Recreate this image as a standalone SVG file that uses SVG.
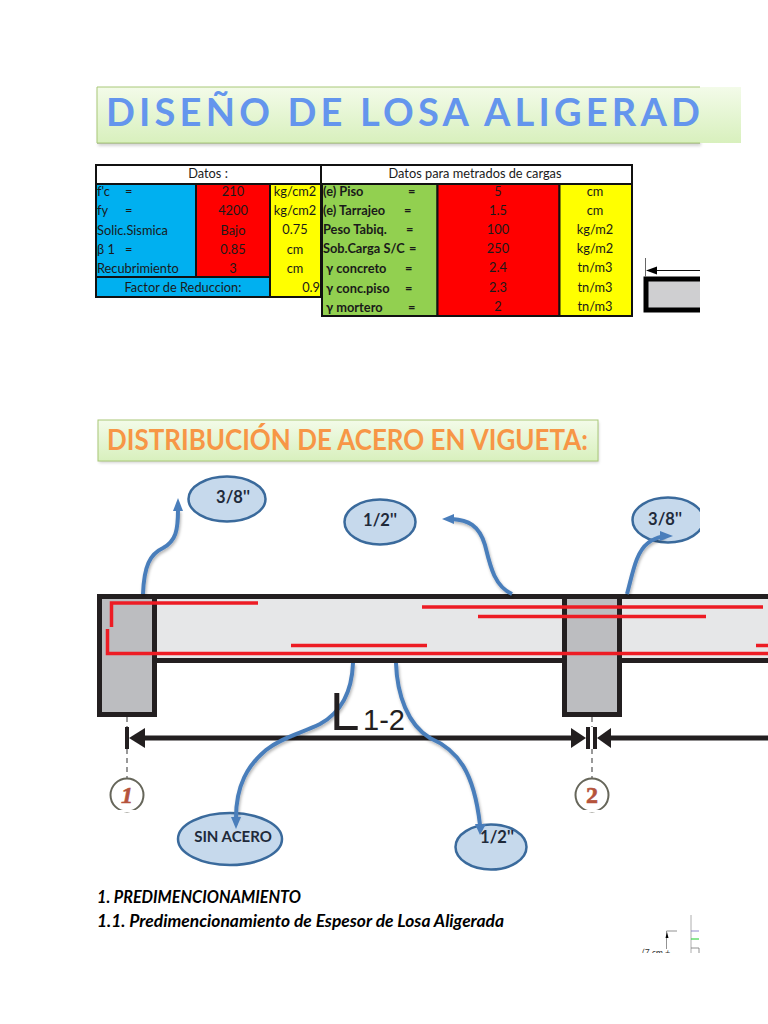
<svg xmlns="http://www.w3.org/2000/svg" width="768" height="1024" viewBox="0 0 768 1024">
<style>
text{font-family:"Lato","Carlito","Liberation Sans",sans-serif;font-size:12.8px;fill:#1a1a1a}
.c{text-anchor:middle}
.b{font-weight:700}
.cell{stroke:#111;stroke-width:2}
.blk{fill:none;stroke:#231f20;stroke-width:5}
.red{stroke:#ed1c24;stroke-width:3.5;fill:none}
.curve{fill:none;stroke:#4a7ebb;stroke-width:4;filter:url(#sh)}
.oval{fill:#c6d9ec;stroke:#3a6a9c;stroke-width:2.5}
.ov{font-size:16.5px;font-weight:700;fill:#1f2a3a;text-anchor:middle}
.dash{stroke:#555;stroke-width:1.2;stroke-dasharray:5 4}
.head{fill:#231f20}
.arr{fill:#4a7ebb}
.dl{stroke:#231f20;stroke-width:5}
</style>
<defs>
<linearGradient id="gr" x1="0" y1="0" x2="0" y2="1"><stop offset="0" stop-color="#f3fbe9"/><stop offset="1" stop-color="#d8f0bd"/></linearGradient>
<filter id="sh" x="-30%" y="-30%" width="160%" height="160%"><feDropShadow dx="1" dy="2" stdDeviation="1.5" flood-color="#000" flood-opacity=".3"/></filter>
<clipPath id="clip700"><rect x="0" y="0" width="700" height="1024"/></clipPath>
<clipPath id="clipSmall"><rect x="0" y="0" width="700" height="953"/></clipPath>
</defs>
<rect width="768" height="1024" fill="#fff"/>

<g id="title">
<rect x="97" y="87" width="603" height="56" fill="#888" opacity=".55" filter="url(#sh)" transform="translate(0,1)"/>
<rect x="97" y="87" width="644" height="56" fill="url(#gr)"/>
<path d="M700 87H97V143H700" fill="none" stroke="#a9c878" stroke-width="1"/>
<text x="106" y="125.500" clip-path="url(#clip700)" style="font-size:38px;font-weight:700;fill:#6495ed;letter-spacing:4.2px">DISEÑO DE LOSA ALIGERADA</text>
</g>

<g id="datos">
<rect class="cell" x="96" y="165" width="225" height="19" fill="#fff"/>
<text class="c" x="208" y="178">Datos :</text>
<rect class="cell" x="96" y="184" width="100" height="93" fill="#00b0f0"/>
<rect class="cell" x="196" y="184" width="74" height="93" fill="#f00"/>
<rect class="cell" x="270" y="184" width="51" height="113" fill="#ff0"/>
<rect class="cell" x="96" y="277" width="174" height="20" fill="#00b0f0"/>
<text x="97" y="196">f'c</text><text x="125" y="196">=</text>
<text x="97" y="215">fy</text><text x="125" y="215">=</text>
<text x="97" y="235">Solic.Sismica</text>
<text x="97" y="254">β 1</text><text x="125" y="254">=</text>
<text x="97" y="273">Recubrimiento</text>
<text class="c" x="183" y="292">Factor de Reduccion:</text>
<g class="vals">
<text class="c" x="233" y="196">210</text><text class="c" x="233" y="215">4200</text><text class="c" x="233" y="235">Bajo</text><text class="c" x="233" y="254">0.85</text><text class="c" x="233" y="273">3</text>
<text class="c" x="295" y="196">kg/cm2</text><text class="c" x="295" y="215">kg/cm2</text><text class="c" x="295" y="234">0.75</text><text class="c" x="295" y="254">cm</text><text class="c" x="295" y="273">cm</text>
<text x="320" y="292" text-anchor="end">0.9</text>
</g>
</g>

<g id="cargas">
<rect class="cell" x="321" y="165" width="311" height="19" fill="#fff"/>
<text class="c" x="475" y="178">Datos para metrados de cargas</text>
<rect class="cell" x="322" y="184" width="115.500" height="132" fill="#92d050"/>
<rect class="cell" x="437.500" y="184" width="122" height="132" fill="#f00"/>
<rect class="cell" x="559.500" y="184" width="72.500" height="132" fill="#ff0"/>
<g class="b">
<text x="323" y="196">(e) Piso</text><text x="408" y="196">=</text>
<text x="323" y="215">(e) Tarrajeo</text><text x="404" y="215">=</text>
<text x="323" y="234">Peso Tabiq.</text><text x="406" y="234">=</text>
<text x="323" y="253">Sob.Carga S/C</text><text x="409" y="253">=</text>
<text x="326" y="273">γ concreto</text><text x="405" y="273">=</text>
<text x="326" y="293">γ conc.piso</text><text x="405" y="293">=</text>
<text x="326" y="312">γ mortero</text><text x="408" y="312">=</text>
</g>
<text class="c" x="498" y="196">5</text><text class="c" x="498" y="215">1.5</text><text class="c" x="498" y="234">100</text><text class="c" x="498" y="253">250</text><text class="c" x="498" y="272">2.4</text><text class="c" x="498" y="292">2.3</text><text class="c" x="498" y="311">2</text>
<text class="c" x="595" y="196">cm</text><text class="c" x="595" y="215">cm</text><text class="c" x="595" y="234">kg/m2</text><text class="c" x="595" y="253">kg/m2</text><text class="c" x="595" y="272">tn/m3</text><text class="c" x="595" y="292">tn/m3</text><text class="c" x="595" y="311">tn/m3</text>
</g>

<g id="seccion-superior">
<rect x="646" y="279" width="54" height="31" fill="#cfcfd1"/>
<path d="M700 279H646V310H700" fill="none" stroke="#000" stroke-width="5"/>
<path d="M645.500 258V277" stroke="#666" stroke-width="1" fill="none"/>
<path d="M700 270.500H655" stroke="#111" stroke-width="1.200" fill="none"/>
<path d="M646 270.500L657 266.500V274.500Z" fill="#000"/>
</g>

<g id="subtitulo">
<rect x="98" y="420" width="500" height="41" fill="#888" opacity=".55" filter="url(#sh)"/>
<rect x="98" y="420" width="500" height="41" fill="url(#gr)" stroke="#a9c878"/>
<text x="107" y="450" textLength="481" lengthAdjust="spacingAndGlyphs" style="font-size:28.500px;font-weight:700;fill:#f79646">DISTRIBUCIÓN DE ACERO EN VIGUETA:</text>
</g>

<g id="viga">
<rect x="157" y="596.500" width="611" height="64" fill="#e6e7e8"/>
<path d="M157 596.500H768M157 660.500H768" class="blk"/>
<rect id="col1" x="99.500" y="596.500" width="55" height="118" class="blk" style="fill:#bcbdc0"/>
<rect id="col2" x="564.500" y="596.500" width="55" height="118" class="blk" style="fill:#bcbdc0"/>
<path d="M111.500 627V603H258" class="red"/>
<path d="M107.500 629V653.500H768" class="red"/>
<path d="M291 645.500H427M756 645.500H768M422 607H763M478 616.500H706" class="red"/>
</g>

<g id="cotas">
<path d="M127 717V727M127 749V779M592 717V727M592 749V779" class="dash"/>
<path d="M145 738H571M611 738H768" class="dl"/>
<path d="M127 727V749M588 727V749M595 727V749" stroke="#231f20" stroke-width="4"/>
<path class="head" d="M129 738L145 728V748Z"/>
<path class="head" d="M586 738L571 728V748Z"/>
<path class="head" d="M597 738L611 728V748Z"/>
</g>

<g id="eje1">
<circle cx="127" cy="795" r="16.500" fill="#fff" stroke="#66665a" stroke-width="2"/>
<text class="c" x="127" y="803" style="font-family:'Liberation Serif',serif;font-size:24px;font-weight:700;font-style:italic;fill:#b5533c;stroke:#b5533c;stroke-width:.6">1</text>
</g>
<g id="eje2">
<circle cx="592" cy="795" r="16.500" fill="#fff" stroke="#66665a" stroke-width="2"/>
<text class="c" x="592" y="803" style="font-family:'Liberation Serif',serif;font-size:24px;font-weight:700;fill:#b5533c;stroke:#b5533c;stroke-width:.6">2</text>
</g>
<rect x="100" y="810" width="520" height="2" fill="#fff"/>

<g id="n38a"><ellipse class="oval" cx="227" cy="499" rx="38.500" ry="22.500"/><text class="ov" x="233" y="503">3/8''</text></g>
<g id="n12a"><ellipse class="oval" cx="380" cy="522" rx="35.500" ry="22.500"/><text class="ov" x="380" y="526">1/2''</text></g>
<g id="n38b" clip-path="url(#clip700)"><ellipse class="oval" cx="668" cy="520" rx="35.500" ry="22.500"/><text class="ov" x="665" y="525">3/8''</text></g>
<g id="nsin"><ellipse class="oval" cx="230" cy="839" rx="52" ry="26"/><text class="ov" x="233" y="842" style="font-size:15px">SIN ACERO</text></g>
<g id="n12b"><ellipse class="oval" cx="491" cy="847" rx="35.500" ry="22.500"/><text class="ov" x="497" y="843">1/2''</text></g>

<g id="conectores">
<path class="curve" d="M143 594C144 566 150 554 163 548C176 541 178 530 178 510"/>
<path class="arr" d="M178 498L183 511H173Z"/>
<path class="curve" d="M512 594C494 586 490 565 485 545C479 525 468 520 452 519"/>
<path class="arr" d="M442 519L454 514V524Z"/>
<path class="curve" d="M627 594C633 572 636 552 648 543C654 538 660 537 664 536"/>
<path class="arr" d="M673 536L660 531V541Z"/>
<path class="curve" d="M353 663C352 690 342 712 320 724C302 733 282 737 266 750C248 765 236 785 236 818"/>
<path class="arr" d="M236 829L231 817H241Z"/>
<path class="curve" d="M396 663C397 695 408 725 430 738C458 750 474 772 480 825"/>
<path class="arr" d="M480 835L475 824H486Z"/>
</g>

<g id="cota-texto">
<text x="330" y="730" style="font-family:'Liberation Sans',sans-serif;font-size:53px;fill:#231f20">L</text>
<text x="363" y="730" style="font-family:'Liberation Sans',sans-serif;font-size:29px;fill:#231f20">1-2</text>
</g>

<g id="texto">
<text x="97" y="903" textLength="204" lengthAdjust="spacingAndGlyphs" style="font-size:16.500px;font-weight:700;font-style:italic;fill:#000">1. PREDIMENCIONAMIENTO</text>
<text x="97" y="927" textLength="407" lengthAdjust="spacingAndGlyphs" style="font-size:16.500px;font-weight:700;font-style:italic;fill:#000">1.1. Predimencionamiento de Espesor de Losa Aligerada</text>
</g>

<g id="detalle" clip-path="url(#clipSmall)">
<path d="M666.500 949V931H677" fill="none" stroke="#777" stroke-width=".8"/>
<path d="M667 932L665.500 938H668.500Z" fill="#000"/>
<path d="M691 915V953" stroke="#999" stroke-width=".8"/>
<path d="M691 931H699" stroke="#7a70c0" stroke-width=".8"/>
<path d="M691 939H699" stroke="#3fd64a" stroke-width="1.200"/>
<path d="M691 948H699V953" fill="none" stroke="#777" stroke-width=".8"/>
<text x="642" y="956" style="font-size:9px;font-style:italic;fill:#333">(7 cm +</text>
</g>
</svg>
